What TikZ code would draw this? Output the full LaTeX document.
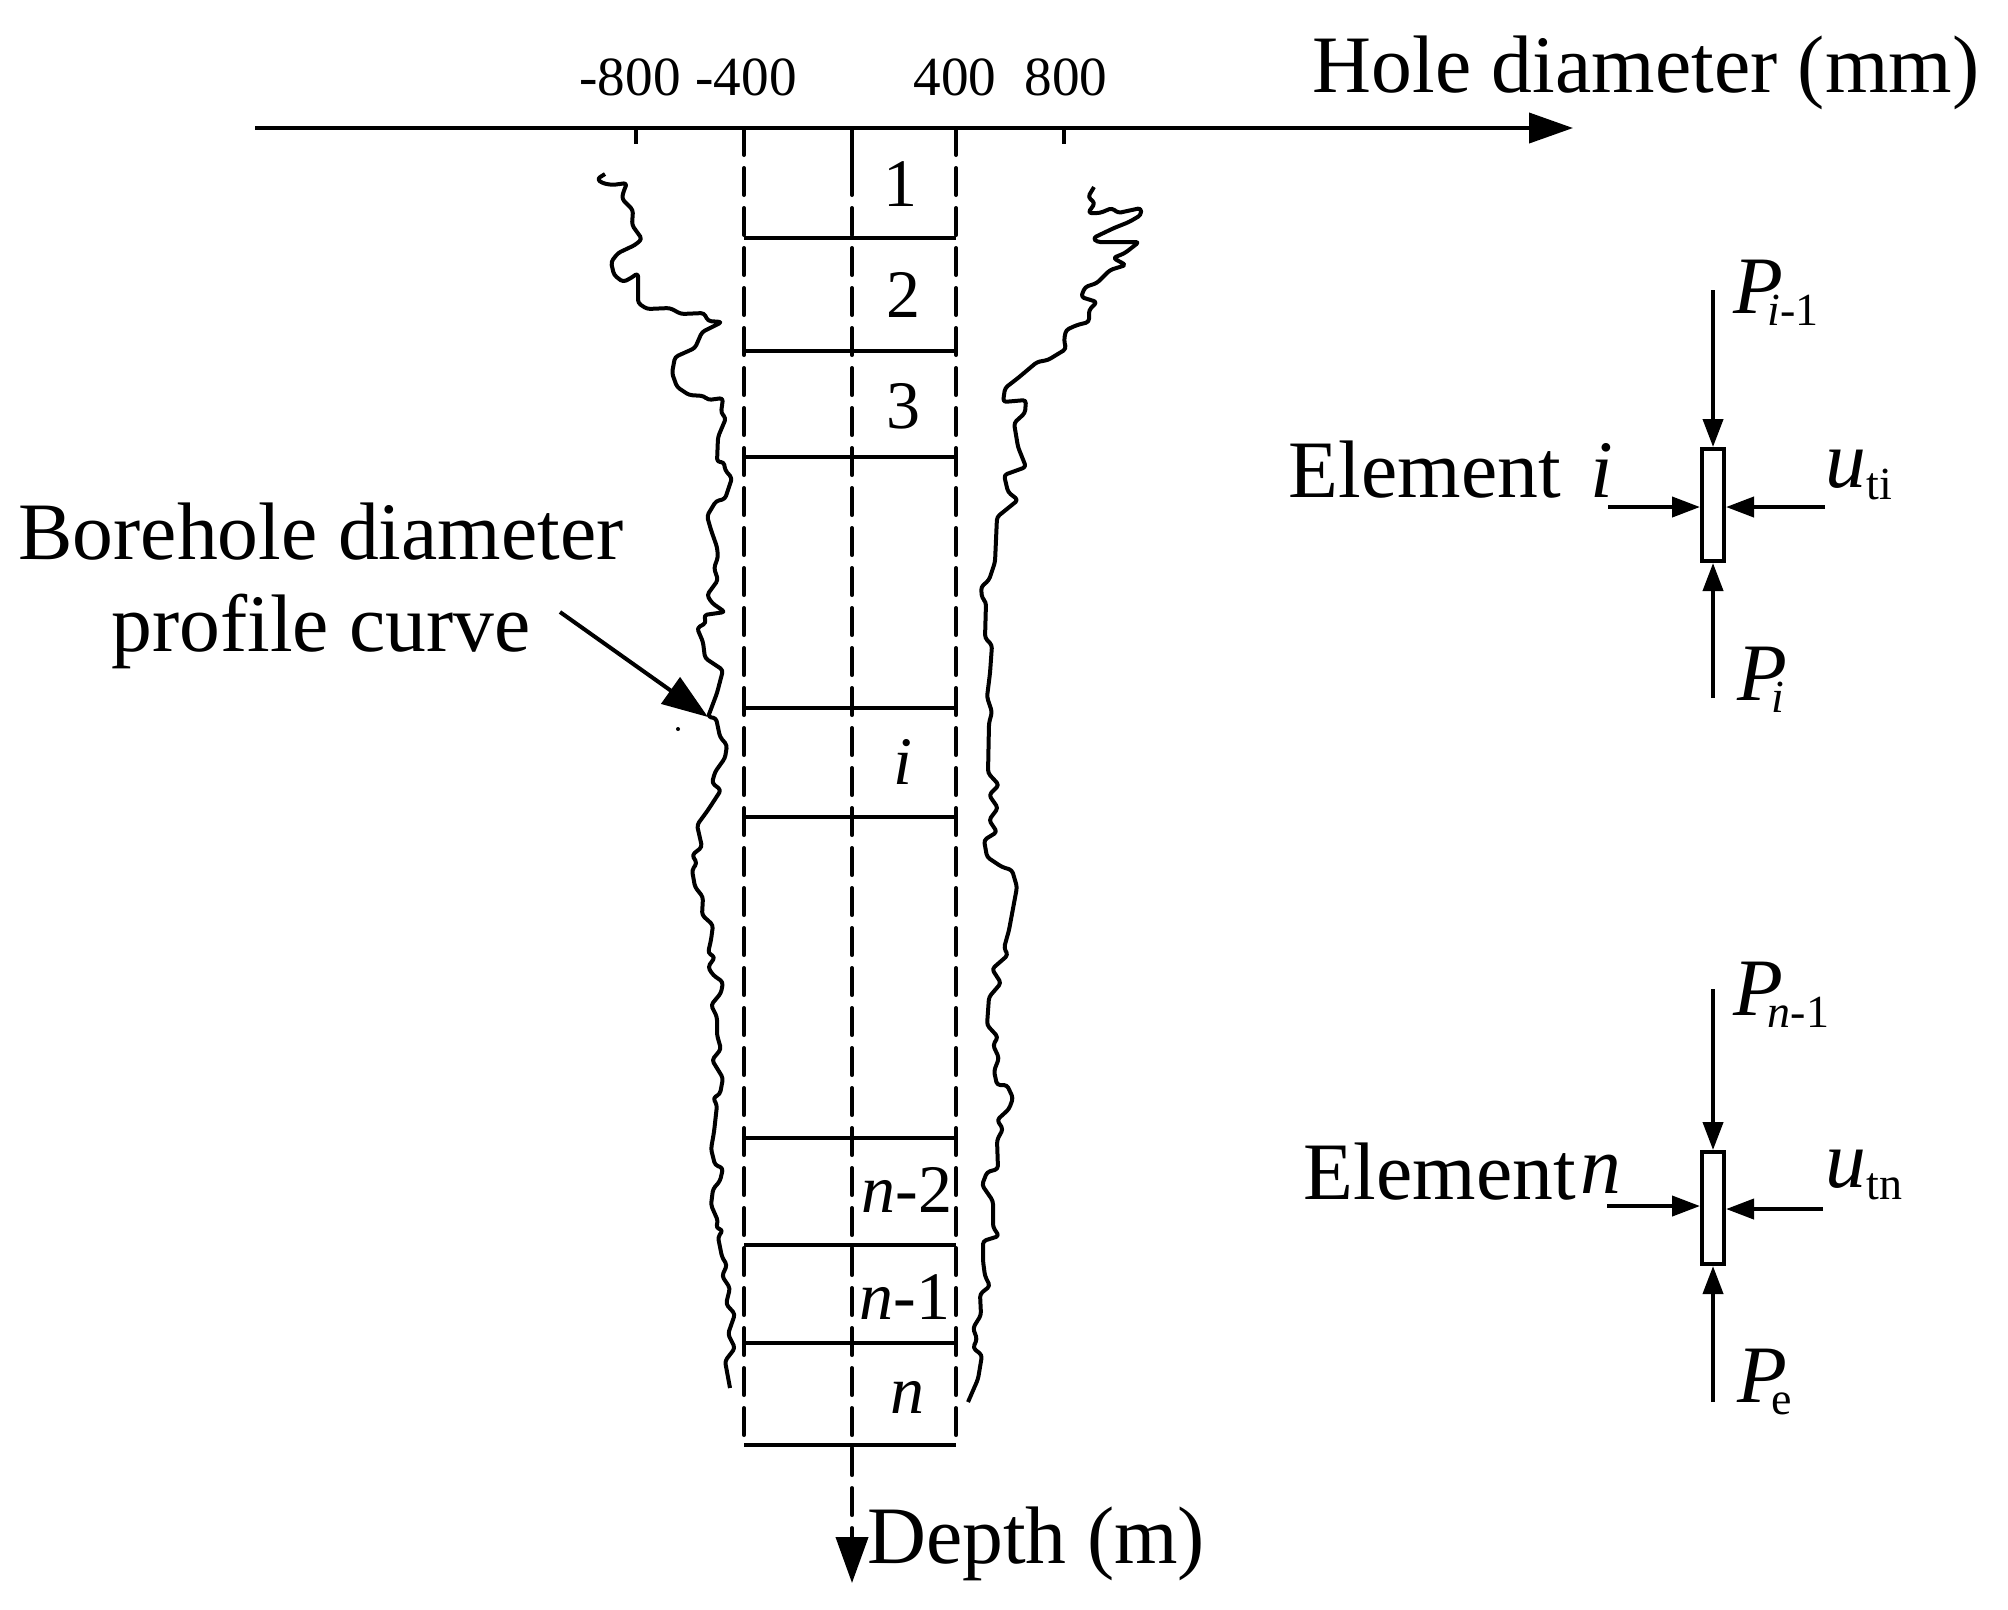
\documentclass[tikz,border=0pt]{standalone}
\usepackage{fontspec}
\setmainfont{Liberation Serif}
\usepackage{tikz}
\usetikzlibrary{arrows.meta}
\newcommand{\lowidx}[1]{\raisebox{-3pt}{\fontsize{11.5}{11.5}\selectfont #1}}
\newcommand{\forceP}[1]{\textit{P}\kern-4pt\lowidx{#1}}
\tikzset{
  biglabel/.style={font=\fontsize{20.4}{23}\selectfont,inner sep=0pt,align=center},
  sidelabel/.style={biglabel,anchor=base west},
  layerlabel/.style={font=\fontsize{17}{20}\selectfont,inner sep=0pt},
  ticklabel/.style={font=\fontsize{13.8}{16}\selectfont,inner sep=0pt},
  elementbox/.style={draw,line width=1pt,fill=white,minimum width=5.5pt,minimum height=28pt,inner sep=0pt},
  forcearrow/.style={line width=1pt,-{Triangle[length=7pt,width=5pt]}},
  plainline/.style={line width=1pt},
  guideline/.style={line width=1pt,dashed,dash pattern=on 6.75pt off 3.25pt,line cap=round},
  borecurve/.style={line width=1pt,line join=round,rounded corners=.8pt}
}
\begin{document}
\begin{tikzpicture}[x=.25pt,y=-.25pt]
  \useasboundingbox (0,0) rectangle (2008,1609);
  % axes
  \coordinate (axisstart) at (255,128);
  \coordinate (axisend) at (1573,128);
  \coordinate (depthstart) at (852,128);
  \coordinate (depthend) at (852,1583);
  \draw[plainline,-{Triangle[length=11pt,width=7.5pt]}] (axisstart) -- (axisend);
  \draw[guideline,-{Triangle[length=11.5pt,width=8pt]}] (depthstart) -- (depthend);
  \draw[plainline] (depthstart) -- (852,170);
  \draw[guideline] (744,128) -- (744,1437);
  \draw[guideline] (956,128) -- (956,1437);
  \draw[plainline] (636,128) -- (636,144);
  \draw[plainline] (1064,128) -- (1064,144);
  \node[ticklabel] (tickm800) at (630,77) {-800};
  \node[ticklabel] (tickm400) at (746,77) {-400};
  \node[ticklabel] (tickp400) at (955,77) {400};
  \node[ticklabel] (tickp800) at (1066,77) {800};
  \node[biglabel] (holelabel) at (1646,73) {Hole diameter (mm)};
  \node[biglabel] (depthlabel) at (1036,1544) {Depth (m)};
  % layers
  \foreach \layery in {238,351,457,708,817,1138,1245,1343,1445}
    \draw[plainline] (744,\layery) -- (956,\layery);
  \node[layerlabel] (layerone) at (900,184) {1};
  \node[layerlabel] (layertwo) at (903,295) {2};
  \node[layerlabel] (layerthree) at (903,406) {3};
  \node[layerlabel] (layeri) at (903,762) {\textit{i}};
  \node[layerlabel] (layernm) at (907,1190) {\textit{n}-2};
  \node[layerlabel] (layernl) at (905,1297) {\textit{n}-1};
  \node[layerlabel] (layern) at (907,1397) {\textit{n}};
  % borehole profile
  \draw[borecurve] (605,174) -- (597,179) -- (602,183) -- (612,185) -- (627,183) -- (623,193) -- (622,199)
    -- (633,210) -- (632,225) -- (642,239) -- (635,245) -- (618,253) -- (611,262) -- (614,275) -- (623,282)
    -- (631,278) -- (638,273) -- (638,303) -- (647,309) -- (670,308) -- (681,314) -- (704,313) -- (708,321)
    -- (722,322) -- (702,332) -- (695,348) -- (675,357) -- (672,373) -- (677,387) -- (689,395) -- (704,396)
    -- (708,400) -- (723,398) -- (721,413) -- (726,418) -- (718,437) -- (717,462) -- (724,462) -- (725,470)
    -- (732,478) -- (725,499) -- (716,501) -- (707,516) -- (711,530) -- (717,547) -- (718,557) -- (714,568)
    -- (718,580) -- (707,595) -- (712,603) -- (725,612) -- (704,615) -- (706,623) -- (697,628) -- (703,642)
    -- (705,658) -- (723,670) -- (717,693) -- (708,717) -- (716,718) -- (720,737) -- (727,745) -- (725,758)
    -- (715,772) -- (712,783) -- (721,790) -- (708,810) -- (697,825) -- (702,847) -- (692,855) -- (697,863)
    -- (692,870) -- (695,887) -- (703,897) -- (702,915) -- (713,925) -- (711,940) -- (708,953) -- (715,957)
    -- (708,967) -- (713,975) -- (723,982) -- (721,993) -- (711,1005) -- (717,1017) -- (717,1035) -- (721,1049)
    -- (712,1060) -- (723,1078) -- (720,1094) -- (713,1098) -- (717,1105) -- (714,1132) -- (711,1149)
    -- (715,1165) -- (723,1168) -- (720,1181) -- (713,1189) -- (711,1205) -- (718,1221) -- (716,1228)
    -- (723,1230) -- (718,1237) -- (722,1257) -- (727,1265) -- (722,1276) -- (730,1288) -- (726,1304)
    -- (735,1314) -- (728,1334) -- (735,1348) -- (725,1361) -- (730,1388);
  \draw[borecurve] (1094,187) -- (1088,197) -- (1095,203) -- (1088,213) -- (1100,213) -- (1112,208) -- (1118,213)
    -- (1141,208) -- (1141,215) -- (1129,222) -- (1114,228) -- (1093,238) -- (1097,242) -- (1139,242)
    -- (1125,253) -- (1113,258) -- (1126,265) -- (1110,270) -- (1097,283) -- (1085,287) -- (1081,297)
    -- (1097,302) -- (1089,310) -- (1089,322) -- (1077,325) -- (1066,330) -- (1064,340) -- (1066,349)
    -- (1048,360) -- (1037,362) -- (1018,378) -- (1005,388) -- (1003,402) -- (1026,400) -- (1025,413)
    -- (1014,423) -- (1018,447) -- (1026,467) -- (1004,475) -- (1008,492) -- (1018,500) -- (997,517)
    -- (995,562) -- (989,580) -- (981,587) -- (982,598) -- (986,602) -- (985,638) -- (992,645) -- (990,673)
    -- (987,697) -- (992,712) -- (989,723) -- (988,773) -- (999,785) -- (989,795) -- (998,808) -- (989,820)
    -- (997,832) -- (984,840) -- (987,857) -- (1002,867) -- (1012,870) -- (1017,887) -- (1009,930)
    -- (1004,948) -- (1008,955) -- (992,969) -- (1001,983) -- (989,997) -- (987,1025) -- (998,1037)
    -- (993,1045) -- (999,1058) -- (994,1071) -- (997,1085) -- (1007,1085) -- (1013,1098) -- (1009,1109)
    -- (997,1120) -- (1003,1129) -- (997,1140) -- (998,1169) -- (987,1172) -- (982,1185) -- (993,1201)
    -- (993,1227) -- (999,1236) -- (983,1241) -- (983,1261) -- (985,1276) -- (990,1286) -- (980,1294)
    -- (981,1315) -- (973,1328) -- (977,1339) -- (973,1348) -- (982,1355) -- (978,1379) -- (968,1402);
  \fill (678,729) circle (.5pt);
  \node[biglabel] (profilelabel) at (321,586) {Borehole diameter\\profile curve};
  \coordinate (profilestart) at (560,612);
  \coordinate (profileend) at (708,717);
  \draw[plainline,-{Triangle[length=11.5pt,width=8pt]}] (profilestart) -- (profileend);
  % element i
  \node[elementbox] (elementi) at (1713,505) {};
  \coordinate (itop) at (1713,290);
  \coordinate (ibottom) at (1713,698);
  \coordinate (ileft) at (1608,507);
  \coordinate (iright) at (1825,507);
  \draw[forcearrow] (itop) -- (elementi.north);
  \draw[forcearrow] (ibottom) -- (elementi.south);
  \draw[forcearrow] (ileft) -- (ileft -| elementi.west);
  \draw[forcearrow] (iright) -- (iright -| elementi.east);
  \node[sidelabel] (elementilabel) at (1288,497) {Element};
  \node[sidelabel] (elementisym) at (1590,497) {\textit{i}};
  \node[sidelabel] (pitop) at (1733,313) {\forceP{\textit{i}-1}};
  \node[sidelabel] (pibottom) at (1737,700) {\forceP{\textit{i}}};
  \node[sidelabel] (uti) at (1825,487) {\textit{u}\lowidx{ti}};
  % element n
  \node[elementbox] (elementn) at (1713,1208) {};
  \coordinate (ntop) at (1713,989);
  \coordinate (nbottom) at (1713,1402);
  \coordinate (nleft) at (1607,1206);
  \coordinate (nright) at (1823,1209);
  \draw[forcearrow] (ntop) -- (elementn.north);
  \draw[forcearrow] (nbottom) -- (elementn.south);
  \draw[forcearrow] (nleft) -- (nleft -| elementn.west);
  \draw[forcearrow] (nright) -- (nright -| elementn.east);
  \node[sidelabel] (elementnlabel) at (1303,1199) {Element};
  \node[sidelabel] (elementnsym) at (1580,1193) {\textit{n}};
  \node[sidelabel] (pntop) at (1733,1015) {\forceP{\textit{n}-1}};
  \node[sidelabel] (pe) at (1737,1402) {\forceP{e}};
  \node[sidelabel] (utn) at (1825,1187) {\textit{u}\lowidx{tn}};
\end{tikzpicture}
\end{document}
